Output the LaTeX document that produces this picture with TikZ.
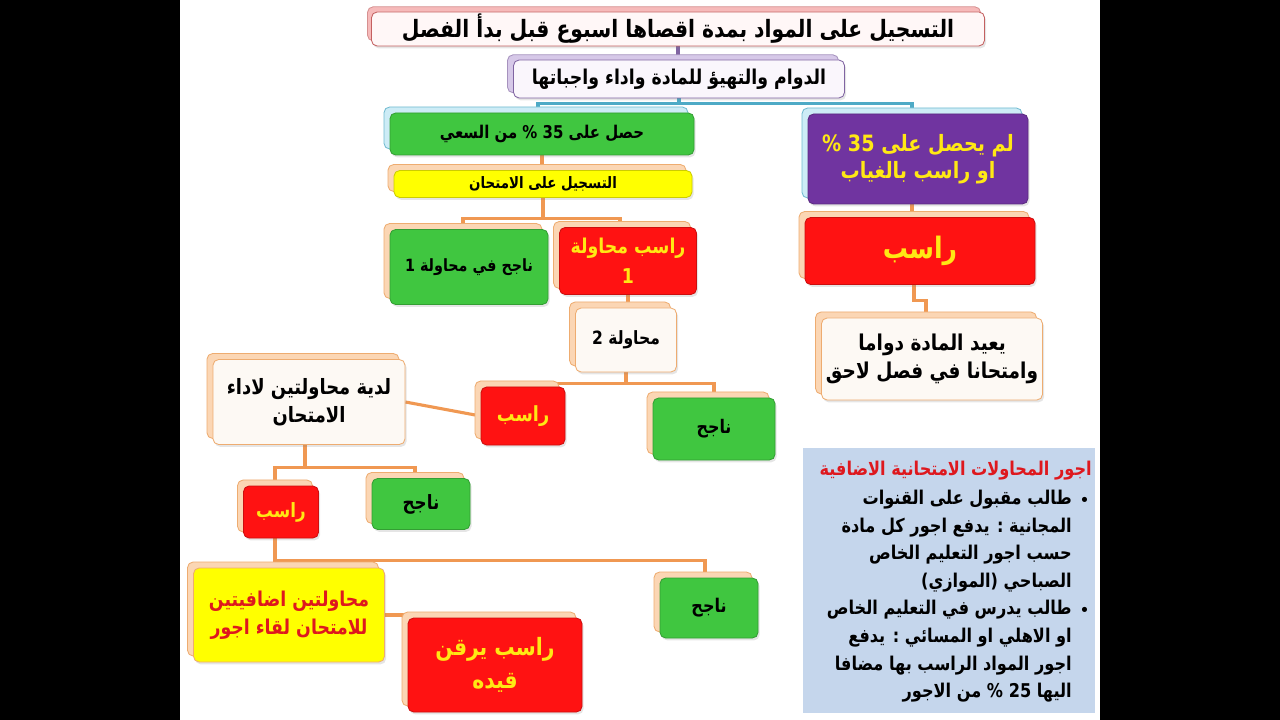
\documentclass[tikz,border=0pt]{standalone}
\usepackage{fontspec}
\usetikzlibrary{calc, shadows}
\TeXXeTstate=1
\newfontfamily\arabicfont[Script=Arabic, FakeStretch=0.85]{DejaVu Sans}
\newcommand{\artxt}[1]{{\arabicfont\bfseries\beginR #1\endR}}
\newcommand{\withbul}{\makebox[0.5cm][r]{\textbullet}}
\newcommand{\nobul}{\makebox[0.5cm]{}}

\definecolor{grn}{RGB}{64,198,64}
\definecolor{rd}{RGB}{255,18,18}
\definecolor{prp}{RGB}{112,52,160}
\definecolor{ylw}{RGB}{255,255,0}
\definecolor{ylwtxt}{RGB}{255,232,20}
\definecolor{cream}{RGB}{253,249,244}
\definecolor{orln}{RGB}{240,152,82}
\definecolor{orbk}{RGB}{251,214,180}
\definecolor{orbd}{RGB}{238,172,112}
\definecolor{tlln}{RGB}{78,170,198}
\definecolor{tlbk}{RGB}{205,236,246}
\definecolor{pplln}{RGB}{128,100,162}
\definecolor{lavbk}{RGB}{214,200,232}
\definecolor{pinkbk}{RGB}{246,186,186}
\definecolor{pinkbd}{RGB}{196,96,96}
\definecolor{infobg}{RGB}{197,214,236}
\definecolor{feered}{RGB}{222,24,30}

\pgfdeclarelayer{background}
\pgfsetlayers{background,main}

\begin{document}
\begin{tikzpicture}[x=0.025cm, y=-0.025cm,
    sz/.style 2 args={minimum width=#1*0.025cm, minimum height=#2*0.025cm},
    fs/.style 2 args={font=\fontsize{#1}{#2}\selectfont},
    card/.style={rounded corners=4pt, align=center, inner sep=1pt, line width=0.6pt,
      drop shadow={shadow xshift=0.04cm, shadow yshift=-0.06cm, opacity=0.2}},
    orangeback/.style={copy shadow={shadow xshift=-0.15cm, shadow yshift=0.15cm, fill=orbk, draw=orbd, line width=0.6pt}},
    blueback/.style={copy shadow={shadow xshift=-0.15cm, shadow yshift=0.15cm, fill=tlbk, draw=tlln!80, line width=0.6pt}},
    greenbox/.style={orangeback, card, fill=grn, draw=grn!80!black},
    redbox/.style={orangeback, card, fill=rd, draw=rd!80!black, text=ylwtxt},
    creambox/.style={orangeback, card, fill=cream, draw=orbd},
    link/.style={line width=2.2pt, orln},
]
\useasboundingbox (0,0) rectangle (1280,720);
\begin{pgfonlayer}{background}
  \fill[black] (0,0) rectangle (1280,720);
  \fill[white] (180,0) rectangle (1100,720);
\end{pgfonlayer}

% Title and preparation
\node[card, sz={613}{34}, fs={17}{20}, fill={rgb,255:red,255;green,247;blue,247}, draw=pinkbd,
  copy shadow={shadow xshift=-0.1cm, shadow yshift=0.13cm, fill=pinkbk, draw=pinkbd!70, line width=0.6pt}]
  (title) at (678,29) {\artxt{التسجيل على المواد بمدة اقصاها اسبوع قبل بدأ الفصل}};
\node[card, sz={331}{38}, fs={14.5}{17}, fill={rgb,255:red,250;green,246;blue,252}, draw=pplln,
  copy shadow={shadow xshift=-0.15cm, shadow yshift=0.13cm, fill=lavbk, draw=pplln!70, line width=0.6pt}]
  (prep) at (679,79) {\artxt{الدوام والتهيؤ للمادة واداء واجباتها}};

% First split
\node[blueback, card, fill=grn, draw=grn!80!black, sz={304}{42}, fs={12.5}{15}] (pass35) at (542,134)
  {\artxt{حصل على 35 \% من السعي}};
\node[blueback, card, fill=prp, draw=prp!80!black, text=ylwtxt, sz={220}{90}, fs={16}{19.5}] (nopass) at (918,159)
  {\artxt{لم يحصل على 35 \%}\\\artxt{او راسب بالغياب}};
\node[orangeback, card, fill=ylw, draw=ylw!80!black, sz={298}{27}, fs={11.2}{13}] (regexam) at (543,184)
  {\artxt{التسجيل على الامتحان}};

% Right branch
\node[redbox, sz={230}{67}, fs={21}{25}] (failA) at (920,251) {\artxt{راسب}};
\node[creambox, sz={221}{82}, fs={15.5}{20}] (repeat) at (932,359)
  {\artxt{يعيد المادة دواما}\\\artxt{وامتحانا في فصل لاحق}};

% First attempt
\node[greenbox, sz={158}{75}, fs={12}{14}] (pass1) at (469,267) {\artxt{ناجح في محاولة 1}};
\node[redbox, sz={137}{67}, fs={14.5}{21}] (fail1) at (628,261)
  {\artxt{راسب محاولة}\\\artxt{1}};
\node[creambox, sz={101}{64}, fs={13}{15}] (try2) at (626,340) {\artxt{محاولة 2}};
\node[redbox, sz={84}{58}, fs={14.8}{17}] (fail2) at (523,416) {\artxt{راسب}};
\node[greenbox, sz={122}{62}, fs={13.3}{15}] (pass2) at (714,429) {\artxt{ناجح}};

% Two more attempts
\node[creambox, sz={192}{85}, fs={15}{20}] (twomore) at (309,402)
  {\artxt{لدية محاولتين لاداء}\\\artxt{الامتحان}};
\node[redbox, sz={75}{52}, fs={14}{16}] (fail3) at (281,512) {\artxt{راسب}};
\node[greenbox, sz={98}{51}, fs={14}{16}] (pass3) at (421,504) {\artxt{ناجح}};
\node[orangeback, card, fill=ylw, draw=orbd, text=feered, sz={191}{94}, fs={14.5}{20}] (extra) at (289,615)
  {\artxt{محاولتين اضافيتين}\\\artxt{للامتحان لقاء اجور}};
\node[redbox, sz={174}{94}, fs={17}{23}] (dismiss) at (495,665)
  {\artxt{راسب يرقن}\\\artxt{قيده}};
\node[greenbox, sz={98}{60}, fs={13.4}{15}] (pass4) at (709,608) {\artxt{ناجح}};

% Fees box
\node[fill=infobg, sz={292}{265}] (fees) at (949,580) {};
\node[anchor=north east, align=right, inner sep=0pt, fs={13.5}{19.6}] (feetext) at (1092,461)
  {\textcolor{feered}{\artxt{اجور المحاولات الامتحانية الاضافية}}\\[1pt]
   \artxt{طالب مقبول على القنوات}\withbul\\
   \artxt{المجانية : يدفع اجور كل مادة}\nobul\\
   \artxt{حسب اجور التعليم الخاص}\nobul\\
   \artxt{الصباحي (الموازي)}\nobul\\
   \artxt{طالب يدرس في التعليم الخاص}\withbul\\
   \artxt{او الاهلي او المسائي : يدفع}\nobul\\
   \artxt{اجور المواد الراسب بها مضافا}\nobul\\
   \artxt{اليها 25 \% من الاجور}\nobul};

% Connectors
\begin{pgfonlayer}{background}
  \draw[line width=2.2pt, pplln] (title.south) -- (title.south |- prep.north);
  \draw[line width=2.2pt, tlln] (prep.south) -- ++(0,5) -| ([xshift=-0.1cm]pass35.north);
  \draw[line width=2.2pt, tlln] (prep.south) -- ++(0,5) -| ([xshift=-0.15cm]nopass.north);
  \draw[link] (pass35.south) -- (pass35.south |- regexam.north);
  \draw[link] (regexam.south) -- ++(0,21) -| ([xshift=-0.15cm]pass1.north);
  \draw[link] (regexam.south) -- ++(0,21) -| ([xshift=-0.2cm]fail1.north);
  \draw[link] ([xshift=-0.15cm]nopass.south) -- ++(0,8) -| (failA.north);
  \draw[link] ([xshift=-0.15cm]failA.south) -- ++(0,16) -| ([xshift=-0.15cm]repeat.north);
  \draw[link] (fail1.south) -- (fail1.south |- try2.north);
  \draw[link] (try2.south) -- ++(0,11) -| ([xshift=-0.12cm]fail2.north);
  \draw[link] (try2.south) -- ++(0,11) -| (pass2.north);
  \draw[link] (twomore.east) -- (fail2.west);
  \draw[link] ([xshift=-0.1cm]twomore.south) -- ++(0,23) -| ([xshift=-0.15cm]fail3.north);
  \draw[link] ([xshift=-0.1cm]twomore.south) -- ++(0,23) -| ([xshift=-0.15cm]pass3.north);
  \draw[link] ([xshift=-0.15cm]fail3.south) -- ++(0,22) -| (extra.north);
  \draw[link] ([xshift=-0.15cm]fail3.south) -- ++(0,22) -| ([xshift=-0.1cm]pass4.north);
  \draw[link] (extra.east) -| ([xshift=-0.15cm]dismiss.north);
\end{pgfonlayer}
\end{tikzpicture}
\end{document}
